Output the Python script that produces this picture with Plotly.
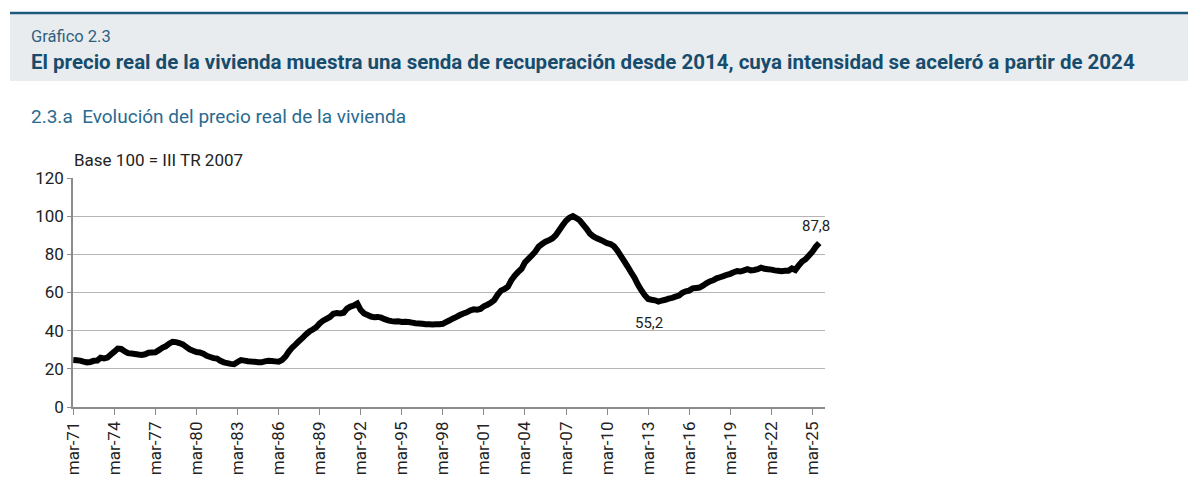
import plotly.graph_objects as go

# Quarterly real house price index (Base 100 = III TR 2007), 1971Q1 .. 2025Q3
start_year = 1971
precio = [
    24.6, 24.5, 24.3, 23.8,   # 1971
    23.4, 23.6, 24.2, 24.3,   # 1972
    25.8, 25.5, 25.9, 27.5,   # 1973
    29.0, 30.6, 30.4, 29.2,   # 1974
    28.2, 28.0, 27.8, 27.5,   # 1975
    27.3, 27.6, 28.4, 28.6,   # 1976
    28.7, 29.8, 31.0, 31.8,   # 1977
    33.2, 34.2, 34.0, 33.5,   # 1978
    32.8, 31.5, 30.2, 29.5,   # 1979
    28.8, 28.6, 27.9, 26.8,   # 1980
    26.2, 25.6, 25.4, 24.2,   # 1981
    23.4, 23.0, 22.6, 22.4,   # 1982
    23.6, 24.6, 24.3, 24.0,   # 1983
    23.8, 23.7, 23.5, 23.4,   # 1984
    23.9, 24.2, 24.1, 23.9,   # 1985
    23.7, 24.6, 26.4, 29.0,   # 1986
    31.2, 32.8, 34.6, 36.2,   # 1987
    38.0, 39.6, 40.6, 41.8,   # 1988
    43.8, 45.2, 46.2, 47.2,   # 1989
    48.8, 49.2, 49.0, 49.4,   # 1990
    51.6, 52.6, 53.2, 54.2,   # 1991
    50.8, 49.0, 48.2, 47.4,   # 1992
    47.0, 47.2, 46.8, 46.0,   # 1993
    45.4, 45.0, 44.8, 44.9,   # 1994
    44.6, 44.7, 44.5, 44.2,   # 1995
    43.9, 43.8, 43.6, 43.4,   # 1996
    43.3, 43.2, 43.3, 43.4,   # 1997
    43.6, 44.6, 45.4, 46.4,   # 1998
    47.2, 48.2, 49.0, 49.6,   # 1999
    50.6, 51.2, 51.0, 51.4,   # 2000
    52.8, 53.6, 54.6, 56.0,   # 2001
    58.8, 61.0, 61.8, 63.0,   # 2002
    66.4, 68.8, 70.8, 72.4,   # 2003
    75.8, 77.6, 79.4, 81.4,   # 2004
    84.0, 85.4, 86.6, 87.4,   # 2005
    88.3, 90.0, 92.6, 95.2,   # 2006
    97.6, 99.2, 100.0, 99.0,  # 2007
    97.8, 95.6, 93.4, 90.8,   # 2008
    89.4, 88.4, 87.6, 86.8,   # 2009
    85.8, 85.4, 84.2, 82.0,   # 2010
    79.2, 76.4, 73.6, 70.6,   # 2011
    67.8, 64.2, 61.2, 58.6,   # 2012
    56.6, 56.2, 55.9, 55.2,   # 2013
    55.8, 56.2, 56.8, 57.2,   # 2014
    57.8, 58.4, 59.8, 60.6,   # 2015
    61.0, 62.2, 62.4, 62.6,   # 2016
    63.6, 64.8, 65.8, 66.4,   # 2017
    67.4, 68.0, 68.6, 69.3,   # 2018
    69.8, 70.6, 71.2, 71.0,   # 2019
    71.6, 72.2, 71.6, 71.8,   # 2020
    72.2, 73.0, 72.4, 72.2,   # 2021
    72.0, 71.6, 71.4, 71.2,   # 2022
    71.4, 71.4, 72.6, 71.8,   # 2023
    74.2, 76.2, 77.4, 79.4,   # 2024
    81.4, 84.0, 86.0,         # 2025
]
x_vals = [start_year + i / 4 for i in range(len(precio))]

tick_years = list(range(1971, 2026, 3))
tick_labels = ["mar-%02d" % (y % 100) for y in tick_years]

y_ticks = [0, 20, 40, 60, 80, 100, 120]

min_label = "55,2"
min_quarter = 2013.75
last_label = "87,8"

fig = go.Figure()
fig.add_trace(go.Scatter(
    x=x_vals, y=precio, mode="lines",
    line=dict(color="#000000", width=6, simplify=False),
    hoverinfo="skip", showlegend=False,
))

# geometry helpers (plot area in px)
L, R, T, B = 73, 825, 178, 407
W, H = 1200, 498
def px(xp):
    return (xp - L) / (R - L)
def py(yp):
    return (B - yp) / (B - T)

shapes = [
    dict(type="rect", xref="paper", yref="paper",
         x0=px(10), x1=px(1188), y0=py(81), y1=py(13),
         fillcolor="#e8ecef", line=dict(width=0), layer="below"),
    dict(type="line", xref="paper", yref="paper",
         x0=px(10), x1=px(1188), y0=py(13), y1=py(13),
         line=dict(color="#1f5a7c", width=2.5)),
]

FONT = "Roboto, Arial, sans-serif"
min_idx = x_vals.index(min_quarter)
annotations = [
    dict(text="Gráfico 2.3", xref="paper", yref="paper", x=px(29), y=py(36),
         xanchor="left", yanchor="middle", showarrow=False,
         font=dict(family=FONT, size=16.5, color="#2f5f80")),
    dict(text="<b>El precio real de la vivienda muestra una senda de recuperación desde 2014, cuya intensidad se aceleró a partir de 2024</b>",
         xref="paper", yref="paper", x=px(29), y=py(62),
         xanchor="left", yanchor="middle", showarrow=False,
         font=dict(family=FONT, size=20.5, color="#174c6d")),
    dict(text="2.3.a  Evolución del precio real de la vivienda", xref="paper", yref="paper",
         x=px(29), y=py(117), xanchor="left", yanchor="middle", showarrow=False,
         font=dict(family=FONT, size=19, color="#2a6a90")),
    dict(text="Base 100 = III TR 2007", xref="paper", yref="paper",
         x=px(72), y=py(160), xanchor="left", yanchor="middle", showarrow=False,
         font=dict(family=FONT, size=17, color="#222222")),
    dict(text=min_label, x=x_vals[min_idx] - 0.7, y=precio[min_idx],
         xref="x", yref="y", yshift=-21, showarrow=False,
         xanchor="center", yanchor="middle",
         font=dict(family=FONT, size=15, color="#222222")),
    dict(text=last_label, x=x_vals[-1], y=precio[-1],
         xref="x", yref="y", yshift=6, xshift=-3, showarrow=False,
         xanchor="center", yanchor="bottom",
         font=dict(family=FONT, size=15, color="#222222")),
]

fig.update_layout(
    width=W, height=H,
    margin=dict(l=L, r=W - R, t=T, b=H - B, pad=0),
    paper_bgcolor="white", plot_bgcolor="white",
    shapes=shapes, annotations=annotations,
    font=dict(family=FONT, color="#333333"),
    xaxis=dict(
        range=[1970.98, 2025.92],
        tickmode="array", tickvals=tick_years, ticktext=tick_labels,
        tickangle=-90, tickfont=dict(family=FONT, size=17, color="#222222"),
        showgrid=False, zeroline=False,
        showline=True, linecolor="#8c8c8c", linewidth=1.5,
        ticks="outside", ticklen=6, tickcolor="#8c8c8c", tickwidth=1.2,
    ),
    yaxis=dict(
        range=[0, 120], tickmode="array", tickvals=y_ticks,
        tickfont=dict(family=FONT, size=17, color="#222222"),
        showgrid=True, gridcolor="#b5b5b5", gridwidth=1.2,
        zeroline=False, showline=True, linecolor="#8c8c8c", linewidth=1.5,
        ticks="outside", ticklen=4, tickcolor="#8c8c8c",
    ),
)

fig.write_html("out.html")
